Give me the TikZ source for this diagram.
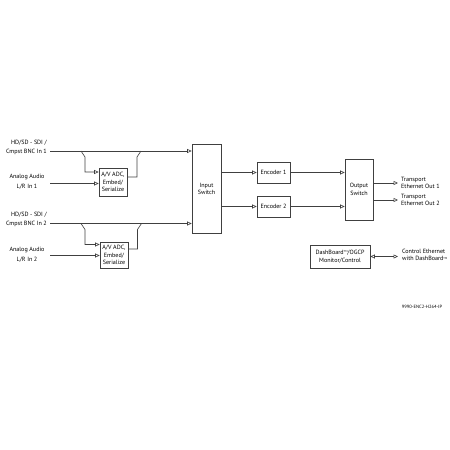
\documentclass[tikz,border=0pt]{standalone}
\usepackage{fontspec}
\setmainfont{PT Sans}
\usetikzlibrary{arrows.meta}
\newcommand{\tmark}{\raisebox{1.8pt}{\fontsize{2.8}{3}\selectfont TM}}
\begin{document}
\begin{tikzpicture}[x=1pt,y=-1pt,
  every node/.style={font=\fontsize{6.1}{7.6}\selectfont, inner sep=0pt, text=black},
  blk/.style={draw=black!75, line width=0.6pt, fill=white, align=center},
  lbl/.style={align=center},
  ln/.style={draw=black!75, line width=0.6pt},
  arr/.style={ln, -{Triangle[open, length=4.5pt, width=4pt]}},
  darr/.style={ln, {Triangle[open, length=4.5pt, width=4pt]}-{Triangle[open, length=4.5pt, width=4pt]}}]
\useasboundingbox (0,0) rectangle (450,450);
% blocks
\node[blk, minimum width=29pt, minimum height=89pt] (swin) at (206.5,189) {Input\\Switch};
\node[blk, minimum width=28pt, minimum height=28pt] (adc1) at (113,182) {A/V ADC,\\Embed/\\Serialize};
\node[blk, minimum width=28pt, minimum height=26pt] (adc2) at (114,255) {A/V ADC,\\Embed/\\Serialize};
\node[blk, minimum width=33pt, minimum height=21pt] (enc1) at (273.5,172.5) {Encoder 1};
\node[blk, minimum width=33pt, minimum height=21pt] (enc2) at (273.5,206.5) {Encoder 2};
\node[blk, minimum width=28pt, minimum height=61pt] (swout) at (359,189.5) {Output\\Switch};
\node[blk, minimum width=60pt, minimum height=23pt] (dash) at (340,256.5) {DashBoard\tmark/OGCP\\Monitor/Control};
% labels
\node[lbl, anchor=east, align=right, font=\fontsize{6.1}{8.8}\selectfont] (l1) at (47,147.5) {HD/SD - SDI /\\Cmpst BNC In 1};
\node[lbl, font=\fontsize{6.1}{9.5}\selectfont] (a1) at (27,182) {Analog Audio\\L/R In 1};
\node[lbl, anchor=east, align=right, font=\fontsize{6.1}{8.8}\selectfont] (l2) at (47,219.5) {HD/SD - SDI /\\Cmpst BNC In 2};
\node[lbl, font=\fontsize{6.1}{9.5}\selectfont] (a2) at (27,255) {Analog Audio\\L/R In 2};
\node[lbl, anchor=west, align=left, font=\fontsize{6.1}{7}\selectfont] (o1) at (401,182.5) {Transport\\Ethernet Out 1};
\node[lbl, anchor=west, align=left, font=\fontsize{6.1}{7}\selectfont] (o2) at (401,199.5) {Transport\\Ethernet Out 2};
\node[lbl, anchor=west, align=left] (ce) at (402,255) {Control Ethernet\\with DashBoard\tmark};
\node[lbl, font=\fontsize{4.6}{5}\selectfont] (pn) at (422,307) {9990-ENC2-H264-IP};
% input 1
\coordinate (s1) at (50,151);
\coordinate (s2) at (50,223.5);
\draw[arr] (s1) -- (swin.west |- s1);
\draw[arr] (s2) -- (swin.west |- s2);
\draw[arr] (81,151) -- (85,157) -- (85,172) -- (adc1.west |- 0,172);
\draw[arr] (50,183.5) -- (adc1.west |- 0,183.5);
\draw[ln] (adc1.east |- 0,177) -- (137,177) -- (137,157) -- (141,151);
% input 2
\draw[arr] (81,223.5) -- (85,229.5) -- (85,244.5) -- (adc2.west |- 0,244.5);
\draw[arr] (50,255.5) -- (adc2.west |- 0,255.5);
\draw[ln] (adc2.east |- 0,249) -- (137.5,249) -- (137.5,229.5) -- (141.5,223.5);
% switch to encoders
\draw[arr] (swin.east |- enc1) -- (enc1.west);
\draw[arr] (swin.east |- enc2) -- (enc2.west);
\draw[arr] (enc1.east) -- (swout.west |- enc1);
\draw[arr] (enc2.east) -- (swout.west |- enc2);
\draw[arr] (swout.east |- 0,183) -- (398,183);
\draw[arr] (swout.east |- 0,200) -- (398,200);
\draw[darr] (dash.east) -- (398,256.5);
\end{tikzpicture}
\end{document}
